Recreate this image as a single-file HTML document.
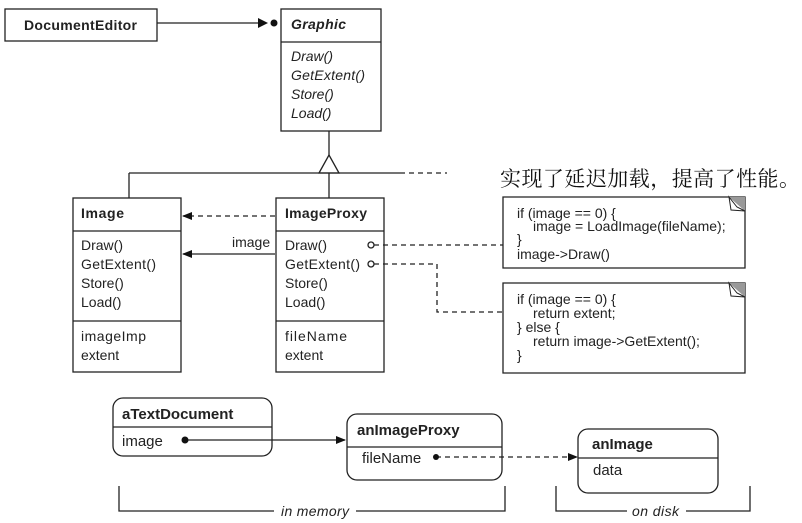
<html><head><style>body{margin:0;background:#fff}svg{display:block}</style></head><body>
<svg width="802" height="523" xmlns="http://www.w3.org/2000/svg" font-family="Liberation Sans, Arial, sans-serif" font-size="14" fill="#222">
<defs><marker id="a" markerWidth="10" markerHeight="8" refX="9" refY="4" orient="auto" markerUnits="userSpaceOnUse"><path d="M0,0 L10,4 L0,8z" fill="#111"/></marker></defs>
<g stroke="#222" stroke-width="1.3" fill="none">
<rect x="5" y="9" width="152" height="32"/>
<rect x="281" y="9" width="100" height="122"/><line x1="281" y1="42" x2="381" y2="42"/>
<line x1="157" y1="23" x2="266" y2="23"/>
<line x1="329" y1="131" x2="329" y2="156"/>
<path d="M319,173 L329,155 L339,173z" fill="#fff"/>
<line x1="329" y1="173" x2="329" y2="198"/>
<line x1="129" y1="173" x2="400" y2="173"/>
<line x1="400" y1="173" x2="447" y2="173" stroke-dasharray="5,4"/>
<line x1="129" y1="173" x2="129" y2="198"/>
<rect x="73" y="198" width="108" height="174"/><line x1="73" y1="231" x2="181" y2="231"/><line x1="73" y1="321" x2="181" y2="321"/>
<rect x="276" y="198" width="108" height="174"/><line x1="276" y1="231" x2="384" y2="231"/><line x1="276" y1="321" x2="384" y2="321"/>
<line x1="275" y1="216" x2="183" y2="216" stroke-dasharray="5,4" marker-end="url(#a)"/>
<line x1="275" y1="254" x2="183" y2="254" marker-end="url(#a)"/>
<circle cx="371" cy="245" r="3" fill="#fff"/><circle cx="371" cy="264" r="3" fill="#fff"/>
<line x1="374" y1="245" x2="503" y2="245" stroke-dasharray="5,4"/>
<path d="M374,264 H437 V312 H503" stroke-dasharray="5,4"/>
<path d="M503,197 H745 V268 H503z"/>
<path d="M503,283 H745 V373 H503z"/>
<path d="M113,408 a10,10 0 0 1 10,-10 h139 a10,10 0 0 1 10,10 v38 a10,10 0 0 1 -10,10 h-139 a10,10 0 0 1 -10,-10z"/><line x1="113" y1="427" x2="272" y2="427"/>
<path d="M347,424 a10,10 0 0 1 10,-10 h135 a10,10 0 0 1 10,10 v46 a10,10 0 0 1 -10,10 h-135 a10,10 0 0 1 -10,-10z"/><line x1="347" y1="447" x2="502" y2="447"/>
<path d="M578,439 a10,10 0 0 1 10,-10 h120 a10,10 0 0 1 10,10 v44 a10,10 0 0 1 -10,10 h-120 a10,10 0 0 1 -10,-10z"/><line x1="578" y1="458" x2="718" y2="458"/>
<line x1="185" y1="440" x2="345" y2="440" marker-end="url(#a)"/>
<line x1="436" y1="457" x2="577" y2="457" stroke-dasharray="5,4" marker-end="url(#a)"/>
<path d="M119,486 V511 H274 M356,511 H505 V486"/>
<path d="M556,486 V511 H627 M686,511 H750 V486"/>
</g>
<path d="M729,197 L745,197 L745,211z" fill="#999"/><path d="M729,197 L737,207 L745,211 L731,210z" fill="#fff" stroke="#222" stroke-width="1"/>
<path d="M729,283 L745,283 L745,297z" fill="#999"/><path d="M729,283 L737,293 L745,297 L731,296z" fill="#fff" stroke="#222" stroke-width="1"/>
<path d="M258,18 L268,23 L258,28z" fill="#111"/><circle cx="274" cy="23" r="3.5" fill="#111"/>
<circle cx="185" cy="440" r="3.5" fill="#111"/><circle cx="436" cy="457" r="3" fill="#111"/>
<g font-weight="bold"><text x="24" y="30" textLength="113">DocumentEditor</text><text x="291" y="29" font-style="italic" textLength="55">Graphic</text>
<text x="81" y="218" textLength="43">Image</text><text x="285" y="218" textLength="82">ImageProxy</text>
<g font-size="15"><text x="122" y="419">aTextDocument</text><text x="357" y="435">anImageProxy</text><text x="592" y="449">anImage</text></g></g>
<g font-style="italic"><text x="291" y="61">Draw()</text><text x="291" y="80" textLength="74">GetExtent()</text><text x="291" y="99">Store()</text><text x="291" y="118">Load()</text>
<text x="281" y="516" textLength="68">in memory</text><text x="632" y="516" textLength="47">on disk</text></g>
<text x="81" y="250">Draw()</text><text x="81" y="269" textLength="75">GetExtent()</text><text x="81" y="288">Store()</text><text x="81" y="307">Load()</text>
<text x="81" y="341" textLength="65">imageImp</text><text x="81" y="360">extent</text>
<text x="232" y="247">image</text>
<text x="285" y="250">Draw()</text><text x="285" y="269" textLength="75">GetExtent()</text><text x="285" y="288">Store()</text><text x="285" y="307">Load()</text>
<text x="285" y="341" textLength="62">fileName</text><text x="285" y="360">extent</text>
<g font-size="15"><text x="122" y="446">image</text><text x="362" y="463">fileName</text><text x="593" y="475">data</text></g>
<g font-size="14"><text x="517" y="218">if (image == 0) {</text><text x="533" y="231">image = LoadImage(fileName);</text><text x="517" y="244">}</text><text x="517" y="259">image-&gt;Draw()</text>
<text x="517" y="304">if (image == 0) {</text><text x="533" y="318">return extent;</text><text x="517" y="332">} else {</text><text x="533" y="346">return image-&gt;GetExtent();</text><text x="517" y="360">}</text></g>
<text x="500" y="186" font-size="21" font-family="Liberation Serif, Noto Serif CJK SC, serif" fill="#111" textLength="300">实现了延迟加载，提高了性能。</text>
</svg></body></html>
